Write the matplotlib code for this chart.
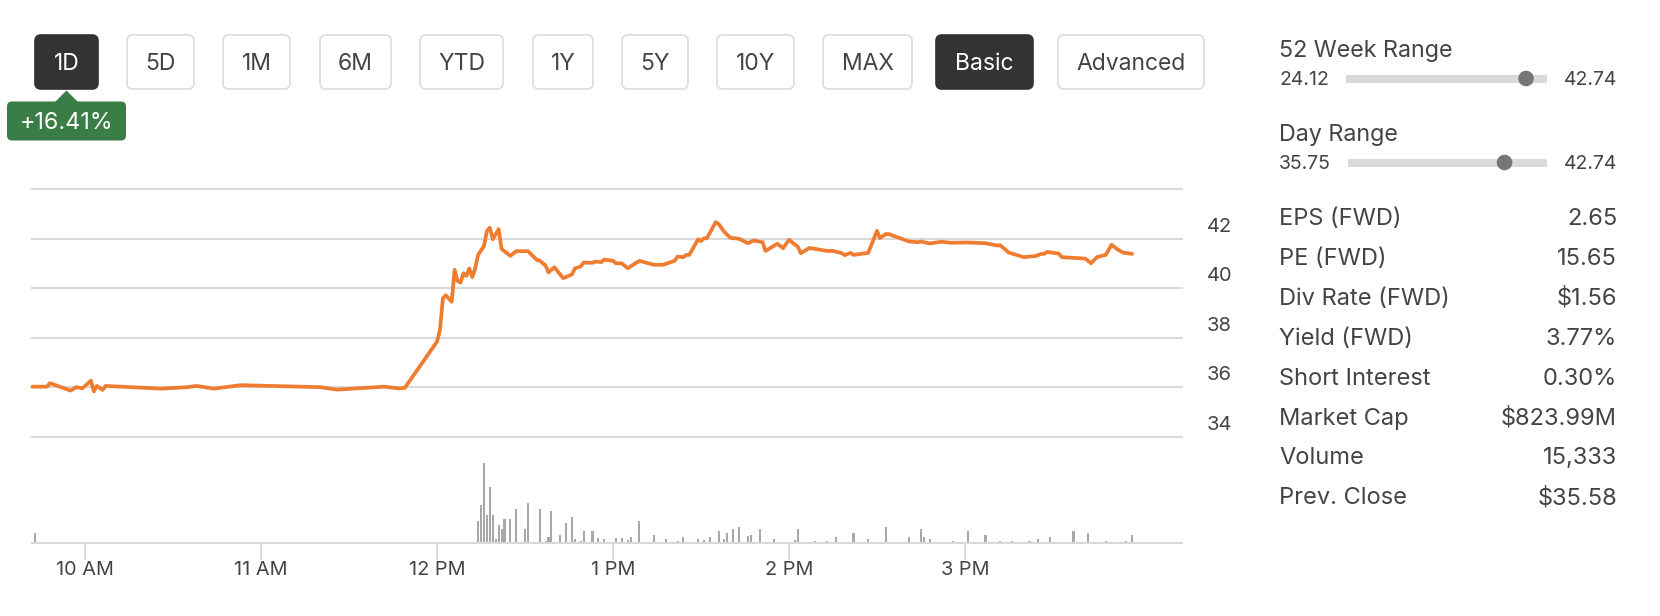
import matplotlib
matplotlib.use("Agg")
import matplotlib.pyplot as plt
from matplotlib.patches import FancyBboxPatch, Polygon, Circle, Rectangle

plt.rcParams["font.family"] = ["Inter", "DejaVu Sans"]

# intraday trades: time, last price
price_times = ["09:42", "09:47", "09:48", "09:50", "09:55", "09:57", "09:59", "10:02", "10:03", "10:04",
               "10:06", "10:07", "10:26", "10:35", "10:38", "10:44", "10:53", "11:20", "11:26", "11:42",
               "11:47", "11:49", "12:00", "12:01", "12:02", "12:03", "12:05", "12:06", "12:07", "12:08",
               "12:09", "12:10", "12:11", "12:12", "12:13", "12:14", "12:16", "12:17", "12:18", "12:19",
               "12:21", "12:22", "12:25", "12:27", "12:31", "12:34", "12:35", "12:37", "12:38", "12:40",
               "12:43", "12:46", "12:47", "12:49", "12:50", "12:53", "12:54", "12:56", "12:57", "13:00",
               "13:01", "13:03", "13:05", "13:09", "13:14", "13:17", "13:21", "13:22", "13:24", "13:25",
               "13:26", "13:29", "13:30", "13:31", "13:32", "13:35", "13:36", "13:38", "13:40", "13:43",
               "13:46", "13:48", "13:51", "13:52", "13:53", "13:56", "13:58", "14:00", "14:02", "14:03",
               "14:04", "14:07", "14:13", "14:15", "14:18", "14:19", "14:21", "14:22", "14:27", "14:30",
               "14:31", "14:33", "14:34", "14:38", "14:41", "14:44", "14:45", "14:48", "14:52", "14:55",
               "15:01", "15:07", "15:11", "15:12", "15:15", "15:20", "15:24", "15:26", "15:27", "15:28",
               "15:32", "15:33", "15:41", "15:43", "15:45", "15:48", "15:50", "15:52", "15:54", "15:57"]
price_values = [36.02, 36.02, 36.16, 36.08, 35.86, 36.00, 35.95, 36.26, 35.83, 36.05,
                35.89, 36.05, 35.94, 36.00, 36.05, 35.94, 36.08, 36.00, 35.90, 36.02,
                35.95, 35.97, 37.84, 38.31, 39.59, 39.71, 39.45, 40.74, 40.29, 40.22,
                40.60, 40.49, 40.79, 40.44, 40.79, 41.34, 41.70, 42.31, 42.44, 41.97,
                42.38, 41.58, 41.30, 41.49, 41.49, 41.14, 41.11, 40.91, 40.63, 40.84,
                40.40, 40.55, 40.79, 40.87, 41.03, 41.02, 41.07, 41.05, 41.15, 41.10,
                41.00, 41.00, 40.80, 41.10, 40.94, 40.94, 41.10, 41.27, 41.25, 41.34,
                41.34, 41.97, 41.90, 42.01, 42.01, 42.66, 42.59, 42.26, 42.03, 41.99,
                41.81, 41.92, 41.85, 41.50, 41.57, 41.79, 41.61, 41.95, 41.76, 41.68,
                41.41, 41.62, 41.50, 41.50, 41.41, 41.33, 41.42, 41.34, 41.42, 42.31,
                42.02, 42.18, 42.18, 42.01, 41.88, 41.85, 41.88, 41.80, 41.87, 41.83,
                41.84, 41.81, 41.72, 41.73, 41.43, 41.25, 41.29, 41.38, 41.38, 41.46,
                41.39, 41.25, 41.19, 41.00, 41.25, 41.34, 41.75, 41.56, 41.43, 41.38]

# per-minute volume (shares)
vol_times = ["09:43", "12:14", "12:15", "12:16", "12:17", "12:18", "12:19", "12:20", "12:21", "12:22",
             "12:23", "12:25", "12:27", "12:30", "12:31", "12:35", "12:37", "12:38", "12:39", "12:42",
             "12:44", "12:46", "12:47", "12:49", "12:50", "12:53", "12:55", "12:57", "13:01", "13:03",
             "13:05", "13:06", "13:09", "13:14", "13:18", "13:22", "13:24", "13:29", "13:31", "13:33",
             "13:36", "13:38", "13:39", "13:41", "13:43", "13:46", "13:47", "13:50", "13:55", "14:02",
             "14:03", "14:09", "14:13", "14:16", "14:22", "14:27", "14:33", "14:41", "14:45", "14:46",
             "14:48", "14:56", "15:01", "15:07", "15:12", "15:16", "15:22", "15:25", "15:29", "15:37",
             "15:42", "15:48", "15:55", "15:57"]
vol_shares = [170, 390, 680, 1430, 500, 1000, 500, 60, 320, 250,
              430, 430, 610, 250, 710, 610, 30, 100, 570, 140,
              350, 460, 70, 30, 210, 210, 90, 70, 90, 90,
              40, 100, 390, 140, 70, 30, 100, 70, 40, 100,
              210, 70, 170, 250, 280, 120, 140, 250, 70, 40,
              250, 30, 30, 100, 170, 70, 280, 100, 250, 100,
              70, 30, 210, 140, 30, 30, 30, 70, 100, 210,
              170, 30, 30, 140]

price_ticks = [34, 36, 38, 40, 42, 44]
price_labels = ["34", "36", "38", "40", "42", ""]
hour_ticks = ["10:00", "11:00", "12:00", "13:00", "14:00", "15:00"]
hour_labels = ["10 AM", "11 AM", "12 PM", "1 PM", "2 PM", "3 PM"]

buttons = ["1D", "5D", "1M", "6M", "YTD", "1Y", "5Y", "10Y", "MAX", "Basic", "Advanced"]
active = ["1D", "Basic"]
change_text = "+16.41%"

week52 = (24.12, 42.74)
day_range = (35.75, 42.74)
last_price = 41.42

stat_labels = ["EPS (FWD)", "PE (FWD)", "Div Rate (FWD)", "Yield (FWD)", "Short Interest",
               "Market Cap", "Volume", "Prev. Close"]
stat_values = ["2.65", "15.65", "$1.56", "3.77%", "0.30%", "$823.99M", "15,333", "$35.58"]


def to_min(s):
    h, m = s.split(":")
    return int(h) * 60 + int(m)


W, H = 1660, 616
TXT = "#444444"
GRID = "#d9d9d9"
ORANGE = "#ef7d31"

fig = plt.figure(figsize=(W / 100, H / 100), dpi=100)

# overlay in pixel coordinates for the html-ish parts
ui = fig.add_axes([0, 0, 1, 1], zorder=0)
ui.set_xlim(0, W)
ui.set_ylim(H, 0)
ui.axis("off")

# range / view buttons: (left, width) in px
btn_box = [(35, 63), (127, 67), (223, 67), (320, 71), (420, 83), (533, 60),
           (622, 66), (717, 77), (823, 89), (936, 97), (1058, 146)]
for name, (x0, w) in zip(buttons, btn_box):
    on = name in active
    ui.add_patch(FancyBboxPatch((x0, 35), w, 54, boxstyle="round,pad=0,rounding_size=6",
                                fc="#333333" if on else "white",
                                ec="#333333" if on else "#dcdcdc", lw=1.2))
    ui.text(x0 + w / 2, 70.5, name, ha="center", va="baseline", fontsize=16.5,
            color="white" if on else TXT)

# change badge under 1D
green = "#3a7d46"
ui.add_patch(Polygon([(55, 102), (66.5, 90.5), (78, 102)], closed=True, fc=green, ec="none"))
ui.add_patch(FancyBboxPatch((7, 101.5), 119, 39, boxstyle="round,pad=0,rounding_size=5",
                            fc=green, ec="none"))
ui.text(66.5, 129, change_text, ha="center", va="baseline", fontsize=16.8, color="white")


# right info panel
def slider(y_head, y_row, lo, hi, track_x0, title):
    ui.text(1279, y_head, title, ha="left", va="baseline", fontsize=16.8, color=TXT)
    ui.text(1279, y_row + 6.5, f"{lo:.2f}", ha="left", va="baseline", fontsize=14, color=TXT)
    ui.text(1617, y_row + 6.5, f"{hi:.2f}", ha="right", va="baseline", fontsize=14, color=TXT)
    x1 = 1547
    ui.add_patch(Rectangle((track_x0, y_row - 4), x1 - track_x0, 8, fc=GRID, ec="none"))
    r = 7.8
    frac = (last_price - lo) / (hi - lo)
    ui.add_patch(Circle((track_x0 + r + frac * (x1 - track_x0 - 2 * r), y_row), r,
                        fc="#777777", ec="none"))


slider(56.5, 78.5, week52[0], week52[1], 1346, "52 Week Range")
slider(140.5, 162.5, day_range[0], day_range[1], 1348, "Day Range")

for i, (lab, val) in enumerate(zip(stat_labels, stat_values)):
    yb = 225 + i * 39.9
    ui.text(1279, yb, lab, ha="left", va="baseline", fontsize=17, color=TXT)
    ui.text(1617, yb, val, ha="right", va="baseline", fontsize=17, color=TXT)

# price panel
x_lim = (581.9, 974.0)
ax = fig.add_axes([32 / W, 1 - 436.7 / H, 1150 / W, (436.7 - 189) / H], zorder=2)
ax.set_xlim(*x_lim)
ax.set_ylim(price_ticks[0], price_ticks[-1])
ax.axis("off")
for v, lab in zip(price_ticks, price_labels):
    ax.axhline(v, color=GRID, lw=1.5, clip_on=False, zorder=1)
    if lab:
        ax.annotate(lab, xy=(1, v), xycoords=("axes fraction", "data"), xytext=(25, 12),
                    textcoords="offset pixels", ha="left", va="center", fontsize=14.5, color=TXT)
ax.plot([to_min(t) for t in price_times], price_values, color=ORANGE, lw=2.7,
        solid_joinstyle="round", solid_capstyle="round", clip_on=False, zorder=3)

# volume panel
axv = fig.add_axes([32 / W, 1 - 542.7 / H, 1150 / W, 97.7 / H], zorder=2)
axv.bar([to_min(t) for t in vol_times], vol_shares, width=0.7, color="#a8a8a8", zorder=1)
axv.set_xlim(*x_lim)
axv.set_ylim(0, 1760)
for s in ["top", "left", "right"]:
    axv.spines[s].set_visible(False)
axv.spines["bottom"].set_color(GRID)
axv.spines["bottom"].set_linewidth(1.5)
axv.spines["bottom"].set_zorder(3)
axv.set_yticks([])
axv.set_xticks([to_min(t) for t in hour_ticks])
axv.set_xticklabels(hour_labels)
axv.tick_params(axis="x", length=12.5, width=1.4, color=GRID, pad=0.8,
                labelsize=14.3, labelcolor=TXT)
axv.patch.set_alpha(0)

fig.savefig("out.png", dpi=100, facecolor="white")
